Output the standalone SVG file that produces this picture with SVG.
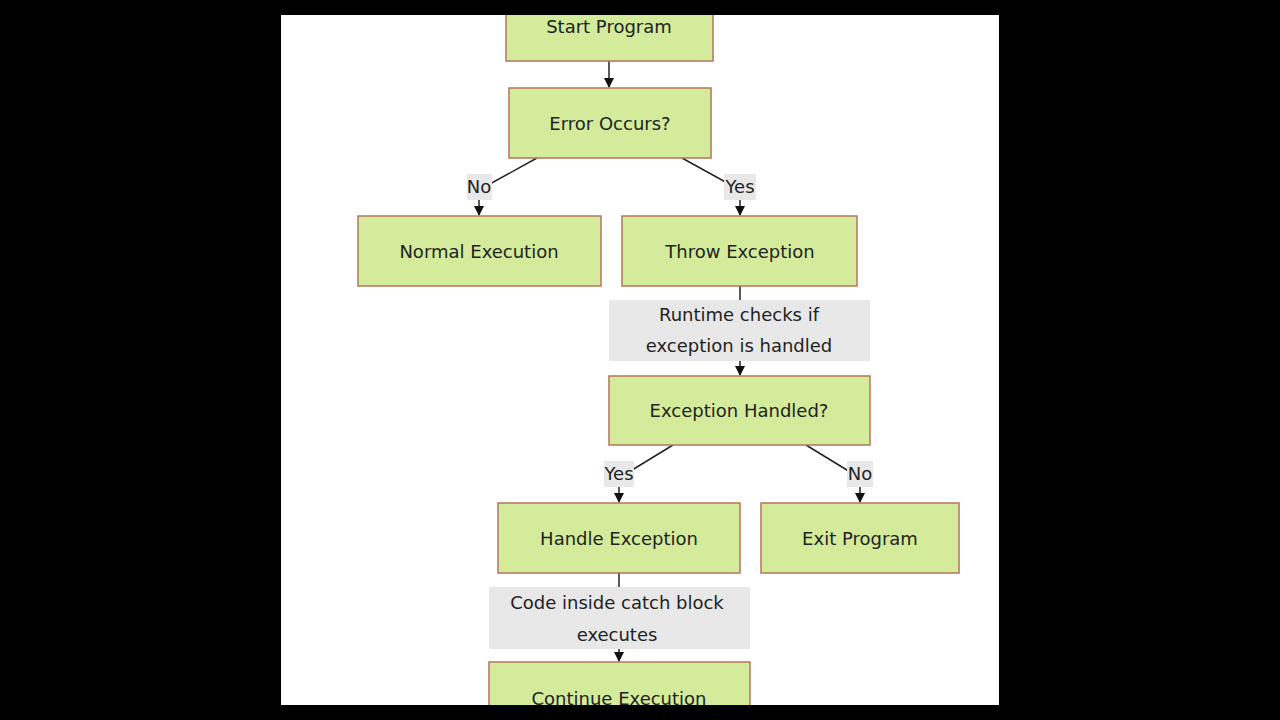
<svg xmlns="http://www.w3.org/2000/svg" width="1280" height="720" viewBox="0 0 1280 720">
<defs>
<style>
.n rect{fill:#d3eb9a;stroke:#b5765c;stroke-width:1.5}
text{font-family:"DejaVu Sans",Verdana,sans-serif;font-size:18px;fill:#222;text-anchor:middle}
.e{fill:none;stroke:#222;stroke-width:1.5}
.lb{fill:#e8e8e8}
</style>
<marker id="a" viewBox="0 0 10 10" refX="9" refY="5" markerWidth="7" markerHeight="7" orient="auto"><path d="M0,0L10,5L0,10z" fill="#111"/></marker>
</defs>
<rect width="1280" height="720" fill="#fff"/>
<g id="connectors">
<path class="e" d="M609,61V87" marker-end="url(#a)"/>
<path class="e" d="M537,158L479,190V215" marker-end="url(#a)"/>
<path class="e" d="M682,158L740,190V215" marker-end="url(#a)"/>
<path class="e" d="M740,286V375" marker-end="url(#a)"/>
<path class="e" d="M673,445L619,478V502" marker-end="url(#a)"/>
<path class="e" d="M806,445L860,478V502" marker-end="url(#a)"/>
<path class="e" d="M619,573V661" marker-end="url(#a)"/>
<rect class="lb" x="467" y="174" width="25" height="26"/><text x="479" y="193">No</text>
<rect class="lb" x="724" y="174" width="32" height="26"/><text x="740" y="193">Yes</text>
<rect class="lb" x="609" y="300" width="261" height="61"/><text x="739" y="321">Runtime checks if</text><text x="739" y="352">exception is handled</text>
<rect class="lb" x="604" y="461" width="30" height="26"/><text x="619" y="480">Yes</text>
<rect class="lb" x="847" y="461" width="26" height="26"/><text x="860" y="480">No</text>
<rect class="lb" x="489" y="587" width="261" height="62"/><text x="617" y="609">Code inside catch block</text><text x="617" y="641">executes</text>
</g>
<g id="start" class="n"><rect x="506" y="-10" width="207" height="71"/><text x="609" y="33">Start Program</text></g>
<g id="error" class="n"><rect x="509" y="88" width="202" height="70"/><text x="610" y="130">Error Occurs?</text></g>
<g id="normal" class="n"><rect x="358" y="216" width="243" height="70"/><text x="479" y="258">Normal Execution</text></g>
<g id="throw" class="n"><rect x="622" y="216" width="235" height="70"/><text x="740" y="258">Throw Exception</text></g>
<g id="handled" class="n"><rect x="609" y="376" width="261" height="69"/><text x="739" y="417">Exception Handled?</text></g>
<g id="handle" class="n"><rect x="498" y="503" width="242" height="70"/><text x="619" y="545">Handle Exception</text></g>
<g id="exit" class="n"><rect x="761" y="503" width="198" height="70"/><text x="860" y="545">Exit Program</text></g>
<g id="continue" class="n"><rect x="489" y="662" width="261" height="70"/><text x="619" y="705">Continue Execution</text></g>
<path fill="#000" fill-rule="evenodd" d="M0,0H1280V720H0Z M281,15V705H999V15Z"/>
</svg>
